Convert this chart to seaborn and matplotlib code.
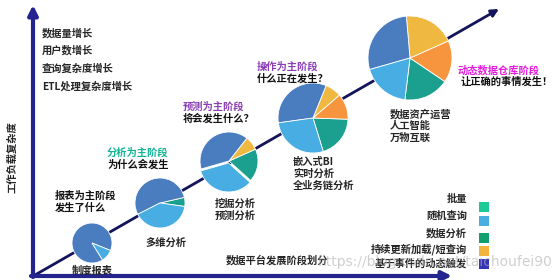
import matplotlib
matplotlib.use("Agg")
import matplotlib.pyplot as plt
import seaborn as sns
import pandas as pd

sns.set_theme(style="white")
plt.rcParams['font.family'] = ['Noto Sans CJK SC', 'DejaVu Sans']

# ---------------- data ----------------
growth_items = ["数据量增长", "用户数增长", "查询复杂度增长", "ETL处理复杂度增长"]
y_title = "工作负载复杂度"
x_title = "数据平台发展阶段划分"

stage_titles = ["报表为主阶段", "分析为主阶段", "预测为主阶段", "操作为主阶段", "动态数据仓库阶段"]
stage_questions = ["发生了什么", "为什么会发生", "将会发生什么？", "什么正在发生？", "让正确的事情发生！"]
stage_apps = ["制度报表", "多维分析", "挖掘分析\n预测分析", "嵌入式BI\n实时分析\n全业务链分析",
              "数据资产运营\n人工智能\n万物互联"]

# pie slices (degrees), counter-clockwise order
pie1_cats = ["dark", "light"]
pie1_vals = [324, 36]
pie2_cats = ["teal", "dark", "light"]
pie2_vals = [21, 194, 145]
pie3_cats = ["teal", "yellow", "dark", "light"]
pie3_vals = [66, 28, 144, 122]
pie4_cats = ["teal", "orange", "yellow", "dark", "light"]
pie4_vals = [71, 43, 27, 120, 99]
pie5_cats = ["teal", "orange", "yellow", "dark", "light"]
pie5_vals = [63, 58, 71, 101, 67]

legend_labels = ["批量", "随机查询", "数据分析", "持续更新加载/短查询", "基于事件的动态触发"]
watermark = "https://blog.csdn.net/taichoufei90"

# ---------------- styles ----------------
slice_colors = {"dark": "#4a7cc0", "light": "#47ade2", "teal": "#1b9f8f",
                "orange": "#f7953f", "yellow": "#efb941"}
legend_colors = ["#1ecb98", "#4aafe0", "#10a070", "#f2b43c", "#3535b8"]
title_colors = ["#111111", "#12b596", "#8a3fb5", "#8a3fb5", "#e41ee0"]

W, H = 554, 280
fig = plt.figure(figsize=(W / 100, H / 100), dpi=100)
ax = fig.add_axes([0, 0, 1, 1])


def Y(y):
    return H - y


# axes arrows
navy = "#24248f"
ax.annotate("", xy=(33, Y(5)), xytext=(33, Y(277)),
            arrowprops=dict(arrowstyle="-|>", color=navy, lw=3, mutation_scale=14,
                            shrinkA=0, shrinkB=0), zorder=2)
ax.annotate("", xy=(452, Y(276)), xytext=(31, Y(276)),
            arrowprops=dict(arrowstyle="-|>", color=navy, lw=3, mutation_scale=14,
                            shrinkA=0, shrinkB=0), zorder=2)
ax.annotate("", xy=(499, Y(9)), xytext=(35, Y(275)),
            arrowprops=dict(arrowstyle="-|>", color="#14145a", lw=2, mutation_scale=11,
                            shrinkA=0, shrinkB=0), zorder=1)

# pies
pies = [
    (pie1_cats, pie1_vals, -22, (92, 243), 20, None),
    (pie2_cats, pie2_vals, -8, (160, 203), 25, None),
    (pie3_cats, pie3_vals, -42, (229, 161), 29, "light"),
    (pie4_cats, pie4_vals, -73, (313, 118), 35, None),
    (pie5_cats, pie5_vals, -97, (410, 58), 42, None),
]
for cats, vals, start, (cx, cy), r, exp in pies:
    df = pd.DataFrame({"cat": cats, "val": vals})
    explode = [0.07 * r if (exp is not None and c == exp) else 0 for c in df["cat"]]
    wedges, _ = ax.pie(df["val"], colors=[slice_colors[c] for c in df["cat"]],
                       startangle=start, counterclock=True, center=(cx, Y(cy)),
                       radius=r, explode=explode, frame=True,
                       wedgeprops=dict(linewidth=0.6, edgecolor="white"))
    for w in wedges:
        w.set_zorder(3)

fs = 7.4
bold = "bold"
# top-left items
for i, t in enumerate(growth_items):
    ax.text(42, Y(33 + 17.7 * i), t, fontsize=fs, fontweight=bold, va="center", ha="left")

ax.text(12, Y(157), y_title, fontsize=fs, fontweight=bold, rotation=90, va="center", ha="center")

# stage titles and questions
title_pos = [(55, 196), (107, 153), (183, 107), (257, 67), (458, 70)]
for i, (x, y) in enumerate(title_pos):
    ax.text(x, Y(y), stage_titles[i], fontsize=fs, fontweight=bold, color=title_colors[i],
            va="center", ha="left")
    qx = x + 3 if i == 4 else x
    ax.text(qx, Y(y + 11.5), stage_questions[i], fontsize=fs, fontweight=bold,
            color="#111111", va="center", ha="left")

# application labels
ax.text(92, Y(271), stage_apps[0], fontsize=fs, fontweight=bold, va="center", ha="center")
ax.text(166, Y(243), stage_apps[1], fontsize=fs, fontweight=bold, va="center", ha="center")
app_left = [(215, 204), (293, 162), (390, 114)]
for (x, y), txt in zip(app_left, stage_apps[2:]):
    for j, line in enumerate(txt.split("\n")):
        ax.text(x, Y(y + 12 * j), line, fontsize=fs, fontweight=bold, va="center", ha="left")

ax.text(277, Y(260), x_title, fontsize=fs, fontweight=bold, va="center", ha="center")

# legend
label_y = [199, 216, 233, 249, 264]
square_y = [207, 221, 238, 251, 264]
for lab, ly in zip(legend_labels, label_y):
    ax.text(467, Y(ly), lab, fontsize=fs, fontweight=bold, va="center", ha="right")
leg_df = pd.DataFrame({"x": [484] * 5, "y": [Y(v) for v in square_y], "lab": legend_labels})
sns.scatterplot(data=leg_df, x="x", y="y", hue="lab", palette=legend_colors, marker="s",
                s=50, linewidth=0, legend=False, ax=ax, zorder=4)

# watermark
ax.text(553, Y(262), watermark, fontsize=10, color="#b0b0b0", alpha=0.6, va="center",
        ha="right", family=["DejaVu Sans"], zorder=6)

ax.set_xlim(0, W)
ax.set_ylim(0, H)
ax.set_aspect("auto")
ax.axis("off")
fig.savefig("out.png", dpi=100)
